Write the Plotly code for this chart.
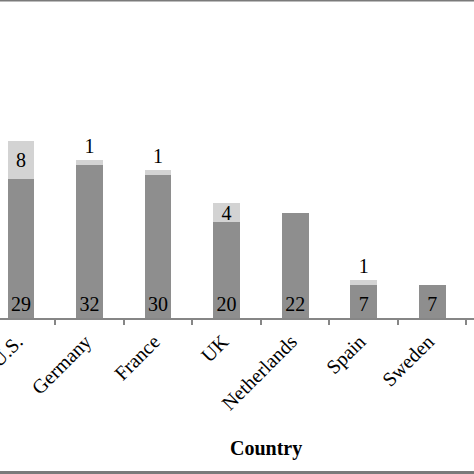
import plotly.graph_objects as go

# countries, and the two stacked parts of each bar
countries = ["U.S.", "Germany", "France", "UK", "Netherlands", "Spain", "Sweden", "Italy"]
base_counts = [29, 32, 30, 20, 22, 7, 7, 5]
extra_counts = [8, 1, 1, 4, 0, 1, 0, 0]

W = H = 474
AXIS_Y = 318          # pixel row of the x axis line
PX_PER_UNIT = 4.78    # vertical scale
SERIF = "Liberation Serif"

extra_text = [str(v) if v else "" for v in extra_counts]
extra_pos = ["inside" if v >= 4 else "outside" for v in extra_counts]

fig = go.Figure()
fig.add_trace(go.Bar(
    x=countries, y=base_counts,
    marker=dict(color="#8e8e8e", line=dict(width=0)),
    text=[str(v) for v in base_counts],
    textposition="inside", insidetextanchor="start", textangle=0,
    textfont=dict(family=SERIF, size=20, color="black"),
    constraintext="none",
    width=0.39,
))
fig.add_trace(go.Bar(
    x=countries, y=extra_counts,
    marker=dict(color="#d3d3d3", line=dict(width=0)),
    text=extra_text,
    textposition=extra_pos, insidetextanchor="middle", textangle=0,
    textfont=dict(family=SERIF, size=20, color="black"),
    constraintext="none", cliponaxis=False,
    width=0.39,
))

fig.update_layout(
    template="none",
    width=W, height=H,
    barmode="stack",
    showlegend=False,
    hovermode=False,
    paper_bgcolor="white", plot_bgcolor="white",
    margin=dict(l=0, r=0, t=0, b=H - AXIS_Y, autoexpand=False),
    font=dict(family=SERIF, size=20, color="black"),
)

fig.update_xaxes(
    type="category",
    range=[-0.307, 6.61],
    showline=True, linecolor="#868686", linewidth=2,
    ticks="outside", tickson="boundaries", ticklen=5, tickcolor="#868686", tickwidth=1.5,
    tickangle=-45, ticklabelshift=-4, ticklabelstandoff=2,
    tickfont=dict(family=SERIF, size=20, color="black"),
    showgrid=False, zeroline=False, automargin=False,
)
fig.update_yaxes(
    range=[0, AXIS_Y / PX_PER_UNIT],
    visible=False, showgrid=False, zeroline=False, automargin=False,
)

fig.add_annotation(
    text="<b>Country</b>", xref="paper", yref="paper",
    x=266 / W, y=(AXIS_Y - 448) / AXIS_Y,
    showarrow=False, xanchor="center", yanchor="middle",
    font=dict(family=SERIF, size=20, color="black"),
)

# gray frame lines at top and bottom of the cropped picture
for yp in [1.0, (AXIS_Y - 472.5) / AXIS_Y]:
    fig.add_shape(type="line", xref="paper", yref="paper",
                  x0=0, x1=1, y0=yp, y1=yp,
                  line=dict(color="#7a7a7a", width=3))

# drop the browser's default page margin so the figure sits at the corner
fig.write_html("out.html", config={"displayModeBar": False},
               post_script="document.body.style.margin='0';")
